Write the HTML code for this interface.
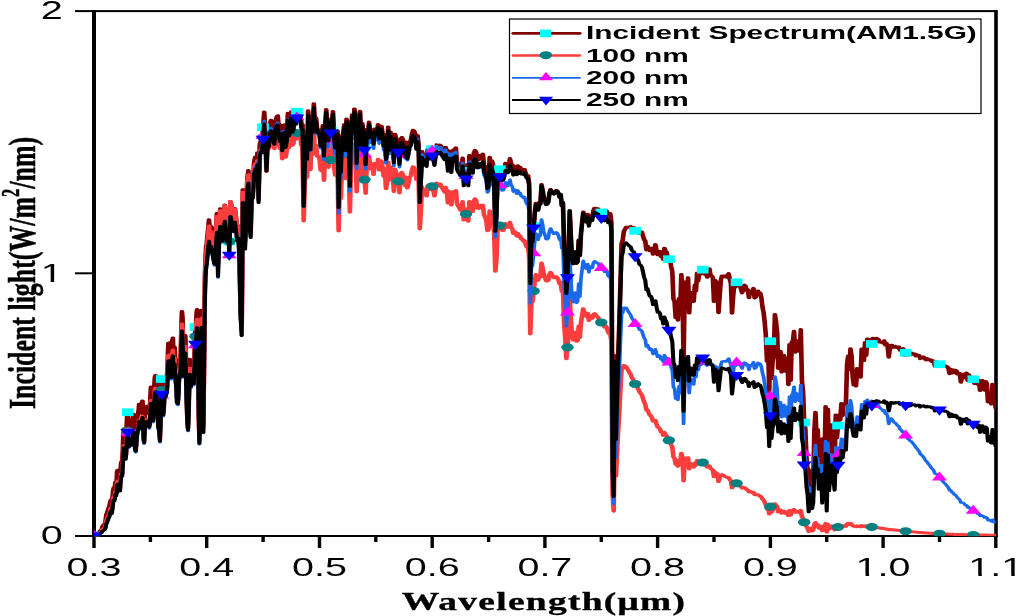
<!DOCTYPE html>
<html><head><meta charset="utf-8"><style>
html,body{margin:0;padding:0;background:#fff;}
body{width:1017px;height:616px;overflow:hidden;}
svg{display:block;}
.tk{font-family:"Liberation Sans",Arial,sans-serif;font-size:25.5px;fill:#000;}
.lg{font-family:"Liberation Sans",Arial,sans-serif;font-weight:bold;font-size:18.5px;fill:#000;}
.ti{font-family:"Liberation Serif","Times New Roman",serif;font-weight:bold;fill:#000;stroke:#000;stroke-width:0.35px;}
</style></head><body>
<svg width="1017" height="616" viewBox="0 0 1017 616">
<defs><clipPath id="pc"><rect x="60.65" y="11" width="581.94" height="525.2"/></clipPath></defs>
<!-- frame -->
<rect x="75" y="10.1" width="922" height="2" fill="#000"/>
<rect x="75" y="535" width="922" height="2" fill="#000"/>
<rect x="92" y="10.1" width="4" height="527" fill="#000"/>
<rect x="994.2" y="10.1" width="3.6" height="527" fill="#000"/>
<rect x="75" y="272.3" width="19" height="2" fill="#000"/>
<rect x="92.3" y="535" width="3.4" height="13.0" fill="#000"/><rect x="148.7" y="535" width="3.4" height="7.0" fill="#000"/><rect x="205.0" y="535" width="3.4" height="13.0" fill="#000"/><rect x="261.4" y="535" width="3.4" height="7.0" fill="#000"/><rect x="317.8" y="535" width="3.4" height="13.0" fill="#000"/><rect x="374.1" y="535" width="3.4" height="7.0" fill="#000"/><rect x="430.5" y="535" width="3.4" height="13.0" fill="#000"/><rect x="486.9" y="535" width="3.4" height="7.0" fill="#000"/><rect x="543.2" y="535" width="3.4" height="13.0" fill="#000"/><rect x="599.6" y="535" width="3.4" height="7.0" fill="#000"/><rect x="655.9" y="535" width="3.4" height="13.0" fill="#000"/><rect x="712.3" y="535" width="3.4" height="7.0" fill="#000"/><rect x="768.7" y="535" width="3.4" height="13.0" fill="#000"/><rect x="825.0" y="535" width="3.4" height="7.0" fill="#000"/><rect x="881.4" y="535" width="3.4" height="13.0" fill="#000"/><rect x="937.8" y="535" width="3.4" height="7.0" fill="#000"/><rect x="994.1" y="535" width="3.4" height="13.0" fill="#000"/>
<g transform="scale(1.55,1)" clip-path="url(#pc)">
<path d="M60.65,535.5 L61.01,535.5 L61.37,535.3 L61.74,535.1 L62.10,535.0 L62.46,534.7 L62.83,533.9 L63.19,533.4 L63.55,533.3 L63.92,532.7 L64.28,531.5 L64.65,530.9 L65.01,530.9 L65.37,530.3 L65.74,528.5 L66.10,526.5 L66.46,525.9 L66.83,524.9 L67.19,525.2 L67.55,524.5 L67.92,522.5 L68.28,518.6 L68.65,514.1 L69.01,513.8 L69.37,511.3 L69.74,509.9 L70.10,507.7 L70.46,507.6 L70.83,504.4 L71.19,501.6 L71.55,500.1 L71.92,504.8 L72.28,503.4 L72.65,496.4 L73.01,490.8 L73.37,488.0 L73.74,489.7 L74.10,487.1 L74.46,482.2 L74.83,484.5 L75.19,482.0 L75.55,471.5 L75.92,470.2 L76.28,473.3 L76.65,477.6 L77.01,478.9 L77.37,480.2 L77.74,470.7 L78.10,463.6 L78.46,461.6 L78.83,462.7 L79.19,450.8 L79.55,435.9 L79.92,429.1 L80.28,431.5 L80.65,435.0 L81.01,443.8 L81.37,438.4 L81.74,425.1 L82.10,413.0 L82.46,412.3 L82.83,423.6 L83.19,430.3 L83.55,426.2 L83.92,421.5 L84.28,420.7 L84.65,423.3 L85.01,429.1 L85.37,427.1 L85.74,419.2 L86.10,414.2 L86.46,417.1 L86.83,427.0 L87.19,435.7 L87.55,437.8 L87.92,430.8 L88.28,422.0 L88.65,416.5 L89.01,414.3 L89.37,411.5 L89.74,404.3 L90.10,404.6 L90.46,412.3 L90.83,412.8 L91.19,407.6 L91.56,402.8 L91.92,400.9 L92.28,408.4 L92.65,426.2 L93.01,430.2 L93.37,415.5 L93.74,407.6 L94.10,410.6 L94.46,408.3 L94.83,406.3 L95.19,410.9 L95.56,411.3 L95.92,409.1 L96.28,413.8 L96.65,410.5 L97.01,397.4 L97.37,387.1 L97.74,391.2 L98.10,396.9 L98.46,400.1 L98.83,407.5 L99.19,399.4 L99.56,385.8 L99.92,377.3 L100.28,375.5 L100.65,375.6 L101.01,381.1 L101.37,390.7 L101.74,399.7 L102.10,416.1 L102.46,414.7 L102.83,423.1 L103.19,431.2 L103.56,412.8 L103.92,387.6 L104.28,379.0 L104.65,387.7 L105.01,399.5 L105.37,402.3 L105.74,395.8 L106.10,382.5 L106.46,378.1 L106.83,382.4 L107.19,376.9 L107.56,378.4 L107.92,372.4 L108.28,356.0 L108.65,343.1 L109.01,342.8 L109.37,346.4 L109.74,350.0 L110.10,360.9 L110.46,362.0 L110.83,354.2 L111.19,340.7 L111.56,337.9 L111.92,356.9 L112.28,354.1 L112.65,347.0 L113.01,359.1 L113.37,367.4 L113.74,373.6 L114.10,389.6 L114.46,390.0 L114.83,391.1 L115.19,381.4 L115.56,365.0 L115.92,359.0 L116.28,361.8 L116.65,349.2 L117.01,327.6 L117.37,311.5 L117.74,317.2 L118.10,340.9 L118.46,361.1 L118.83,352.2 L119.19,339.1 L119.56,335.6 L119.92,355.4 L120.28,382.0 L120.65,402.8 L121.01,416.6 L121.37,420.4 L121.74,402.2 L122.10,375.0 L122.46,359.3 L122.83,367.1 L123.19,373.1 L123.56,366.6 L123.92,365.1 L124.28,367.6 L124.65,369.2 L125.01,370.4 L125.37,356.2 L125.74,336.7 L126.10,326.9 L126.46,325.2 L126.83,312.7 L127.19,309.5 L127.56,327.5 L127.92,362.2 L128.28,410.1 L128.65,435.8 L129.01,405.9 L129.37,356.6 L129.74,324.1 L130.10,310.3 L130.47,337.5 L130.83,391.6 L131.19,424.1 L131.56,370.9 L131.92,312.4 L132.28,271.9 L132.65,255.6 L133.01,247.0 L133.37,243.9 L134.10,231.7 L134.83,219.7 L135.56,231.5 L136.28,226.6 L137.01,234.2 L137.74,241.6 L138.47,246.9 L139.19,234.1 L139.92,213.5 L140.65,261.0 L141.37,228.2 L142.10,208.8 L142.83,222.1 L143.56,225.5 L144.28,214.6 L145.01,205.0 L145.74,213.2 L146.47,227.2 L147.19,214.6 L147.92,241.5 L148.65,201.5 L149.37,206.1 L150.10,216.5 L150.83,218.3 L151.56,208.6 L152.28,217.8 L153.01,228.6 L153.74,225.6 L154.47,248.5 L155.19,306.6 L155.92,327.7 L156.65,189.7 L157.37,213.8 L158.10,238.3 L158.83,209.5 L159.56,177.9 L160.28,170.4 L161.01,215.1 L161.74,227.2 L162.47,182.1 L163.19,186.9 L163.92,162.4 L164.65,157.1 L165.37,166.7 L166.10,152.7 L166.83,192.3 L167.56,145.3 L168.28,140.6 L169.01,141.5 L169.74,127.1 L170.47,112.0 L171.19,130.1 L171.92,161.1 L172.65,133.9 L173.38,136.9 L174.10,123.8 L174.83,120.3 L175.56,129.3 L176.28,132.5 L177.01,135.1 L177.74,121.1 L178.47,117.2 L179.19,115.7 L179.92,128.5 L180.65,133.6 L181.38,125.1 L182.10,143.4 L182.83,126.5 L183.56,124.9 L184.28,140.7 L185.01,134.1 L185.74,113.2 L186.47,129.6 L187.19,125.1 L187.92,111.7 L188.65,126.2 L189.38,123.8 L190.10,110.5 L190.83,118.7 L191.56,111.8 L192.28,111.9 L193.01,110.3 L193.74,115.5 L194.47,123.5 L195.19,124.8 L195.92,202.6 L196.65,162.6 L197.38,131.9 L198.10,155.3 L198.83,110.7 L199.56,127.1 L200.28,146.2 L201.01,119.1 L201.74,129.0 L202.47,103.8 L203.19,125.0 L203.92,118.0 L204.65,129.4 L205.38,129.4 L206.10,130.9 L206.83,143.3 L207.56,143.6 L208.29,125.6 L209.01,153.5 L209.74,126.1 L210.47,109.6 L211.19,128.1 L211.92,138.4 L212.65,119.3 L213.38,130.1 L214.10,122.6 L214.83,111.6 L215.56,137.3 L216.29,145.7 L217.01,134.5 L217.74,130.8 L218.47,205.8 L219.19,158.4 L219.92,170.1 L220.65,136.5 L221.38,133.7 L222.10,124.6 L222.83,148.3 L223.56,119.0 L224.29,122.3 L225.01,133.8 L225.74,184.2 L226.47,133.4 L227.19,114.7 L227.92,131.0 L228.65,108.9 L229.38,116.6 L230.10,161.4 L230.83,134.8 L231.56,128.7 L232.29,111.3 L233.01,143.0 L233.74,123.4 L234.47,133.5 L235.19,147.3 L235.92,162.4 L236.65,129.3 L237.38,136.0 L238.10,122.0 L238.83,131.3 L239.56,135.1 L240.29,129.9 L241.01,141.4 L241.74,129.1 L242.47,132.3 L243.20,132.7 L243.92,124.5 L244.65,136.2 L245.38,128.3 L246.10,126.1 L246.83,133.1 L247.56,143.0 L248.29,134.6 L249.01,156.3 L249.74,149.5 L250.47,127.1 L251.20,146.7 L251.92,132.0 L252.65,139.9 L253.38,137.5 L254.10,159.1 L254.83,134.3 L255.56,138.0 L256.29,147.8 L257.01,147.5 L257.74,160.3 L258.47,139.2 L259.20,137.5 L259.92,139.6 L260.65,148.6 L261.38,151.8 L262.10,142.1 L262.83,154.3 L263.56,148.8 L264.29,142.2 L265.01,140.4 L265.74,134.3 L266.47,130.2 L267.20,131.0 L267.92,134.2 L268.65,144.0 L269.38,135.4 L270.10,144.5 L270.83,197.9 L271.56,176.6 L272.29,151.6 L273.01,159.7 L273.74,154.2 L274.47,156.1 L275.20,160.9 L275.92,149.4 L276.65,148.3 L277.38,153.0 L278.10,153.0 L278.83,149.2 L279.56,153.8 L280.29,159.5 L281.01,151.5 L281.74,144.8 L282.47,145.5 L283.20,147.4 L283.92,145.1 L284.65,146.3 L285.38,149.3 L286.11,151.0 L286.83,152.9 L287.56,147.2 L288.29,152.7 L289.01,164.3 L289.74,150.7 L290.47,160.8 L291.20,165.6 L291.92,151.5 L292.65,149.7 L293.38,149.6 L294.11,147.9 L294.83,161.9 L295.56,164.6 L296.29,165.8 L297.01,168.2 L297.74,168.6 L298.47,158.0 L299.20,178.6 L299.92,165.9 L300.65,170.9 L301.38,164.7 L302.11,178.4 L302.83,155.6 L303.56,161.5 L304.29,156.9 L305.01,165.6 L305.74,152.9 L306.47,150.4 L307.20,152.0 L307.92,160.0 L308.65,159.8 L309.38,159.1 L310.11,155.2 L310.83,156.8 L311.56,154.1 L312.29,165.0 L313.01,166.7 L313.74,170.2 L314.47,181.5 L315.20,179.6 L315.92,157.2 L316.65,172.3 L317.38,160.8 L318.11,164.9 L318.83,182.1 L319.56,225.2 L320.29,211.0 L321.02,172.7 L321.74,171.4 L322.47,169.1 L323.20,170.7 L323.92,173.7 L324.65,173.0 L325.38,169.8 L326.11,163.3 L326.83,163.6 L327.56,166.3 L328.29,165.0 L329.02,158.6 L329.74,163.8 L330.47,164.5 L331.20,169.7 L331.92,166.5 L332.65,167.0 L333.38,170.0 L334.11,165.8 L334.83,169.2 L335.56,167.2 L336.29,170.3 L337.02,169.7 L337.74,171.2 L338.47,169.4 L339.20,173.4 L339.92,175.8 L340.65,175.5 L341.38,183.7 L342.11,282.1 L342.83,242.1 L343.56,240.3 L344.29,226.0 L345.02,212.6 L345.74,203.3 L346.47,205.4 L347.20,209.2 L347.92,202.6 L348.65,203.4 L349.38,184.6 L350.11,190.1 L350.83,197.3 L351.56,199.8 L352.29,204.1 L353.02,203.7 L353.74,201.8 L354.47,193.1 L355.20,189.5 L355.93,191.4 L356.65,192.8 L357.38,193.9 L358.11,192.6 L358.83,190.5 L359.56,191.1 L360.29,193.3 L361.02,197.3 L361.74,194.4 L362.47,206.0 L363.20,202.6 L363.93,245.7 L364.65,266.0 L365.38,293.9 L366.11,277.5 L366.83,251.2 L367.56,210.7 L368.29,235.9 L369.02,259.2 L369.74,263.8 L370.47,252.4 L371.20,251.5 L371.93,263.3 L372.65,261.5 L373.38,240.1 L374.11,255.3 L374.83,233.6 L375.56,222.3 L376.29,212.0 L377.02,216.7 L377.74,219.8 L378.47,220.3 L379.20,214.3 L379.93,223.8 L380.65,216.2 L381.38,217.5 L382.11,217.3 L382.83,210.7 L383.56,208.2 L384.29,208.3 L385.02,209.0 L385.74,208.8 L386.47,210.8 L387.20,212.0 L387.93,212.4 L388.65,213.8 L389.38,212.7 L390.11,214.4 L390.83,210.3 L391.56,211.3 L392.29,215.3 L393.02,215.5 L393.74,213.6 L394.47,222.8 L395.20,466.1 L395.93,495.5 L396.65,355.6 L397.38,436.3 L398.11,394.6 L398.84,356.0 L399.56,322.3 L400.29,280.5 L401.02,243.9 L401.74,240.3 L402.47,231.6 L403.20,229.6 L403.93,227.2 L404.65,227.3 L405.38,227.3 L406.11,227.3 L406.84,226.6 L407.56,228.5 L408.29,228.9 L409.02,227.5 L409.74,230.9 L410.47,231.6 L411.20,230.2 L411.93,231.5 L412.65,233.5 L413.38,232.2 L414.11,232.0 L414.84,235.8 L415.56,239.6 L416.29,240.8 L417.02,249.9 L417.74,246.0 L418.47,248.8 L419.20,250.8 L419.93,248.3 L420.65,249.3 L421.38,254.3 L422.11,249.8 L422.84,244.4 L423.56,250.0 L424.29,254.8 L425.02,251.7 L425.74,251.3 L426.47,256.5 L427.20,253.3 L427.93,259.5 L428.65,248.2 L429.38,251.2 L430.11,252.2 L430.84,259.4 L431.56,259.1 L432.29,259.8 L433.02,266.7 L433.75,271.5 L434.47,299.0 L435.20,301.2 L435.93,317.7 L436.65,312.6 L437.38,320.2 L438.11,298.6 L438.84,309.9 L439.56,274.4 L440.29,286.4 L441.02,359.5 L441.75,290.8 L442.47,281.8 L443.20,291.1 L443.93,277.8 L444.65,313.1 L445.38,292.3 L446.11,295.8 L446.84,293.7 L447.56,301.5 L448.29,285.1 L449.02,291.0 L449.75,272.9 L450.47,281.0 L451.20,271.3 L451.93,274.0 L452.65,273.4 L453.38,269.6 L454.11,271.1 L454.84,274.5 L455.56,272.4 L456.29,277.3 L457.02,269.4 L457.75,268.8 L458.47,275.9 L459.20,275.8 L459.93,277.4 L460.65,301.6 L461.38,280.3 L462.11,281.8 L462.84,283.0 L463.56,312.8 L464.29,296.5 L465.02,280.8 L465.75,275.9 L466.47,275.9 L467.20,275.9 L467.93,276.9 L468.66,277.2 L469.38,275.2 L470.11,273.6 L470.84,279.2 L471.56,283.4 L472.29,313.3 L473.02,295.9 L473.75,284.4 L474.47,287.0 L475.20,282.3 L475.93,285.8 L476.66,282.4 L477.38,285.0 L478.11,289.4 L478.84,292.9 L479.56,286.1 L480.29,285.2 L481.02,286.2 L481.75,290.4 L482.47,289.6 L483.20,297.7 L483.93,291.5 L484.66,292.3 L485.38,291.3 L486.11,288.4 L486.84,298.0 L487.56,297.2 L488.29,294.1 L489.02,290.9 L489.75,293.7 L490.47,293.2 L491.20,297.6 L491.93,307.0 L492.66,312.7 L493.38,322.6 L494.11,336.0 L494.84,361.4 L495.56,347.7 L496.29,392.0 L497.02,341.2 L497.75,378.7 L498.47,360.8 L499.20,355.3 L499.93,314.5 L500.66,321.7 L501.38,332.6 L502.11,368.5 L502.84,364.9 L503.56,351.2 L504.29,372.1 L505.02,360.7 L505.75,355.3 L506.47,371.1 L507.20,371.6 L507.93,358.0 L508.66,384.7 L509.38,344.5 L510.11,380.5 L510.84,342.2 L511.57,340.8 L512.29,331.3 L513.02,352.3 L513.75,340.6 L514.47,346.7 L515.20,349.5 L515.93,351.5 L516.66,329.5 L517.38,381.3 L518.11,391.3 L518.84,422.6 L519.57,428.6 L520.29,457.0 L521.02,470.7 L521.75,498.1 L522.47,470.1 L523.20,493.5 L523.93,493.0 L524.66,483.2 L525.38,431.3 L526.11,412.2 L526.84,438.3 L527.57,429.6 L528.29,462.9 L529.02,460.9 L529.75,439.3 L530.47,484.8 L531.20,438.5 L531.93,463.9 L532.66,406.4 L533.38,497.2 L534.11,409.0 L534.84,465.3 L535.57,445.8 L536.29,424.7 L537.02,446.4 L537.75,449.8 L538.47,464.9 L539.20,415.0 L539.93,437.8 L540.66,425.6 L541.38,414.9 L542.11,420.0 L542.84,403.5 L543.57,415.6 L544.29,403.8 L545.02,404.1 L545.75,404.1 L546.48,364.9 L547.20,356.0 L547.93,369.5 L548.66,348.7 L549.38,355.6 L550.11,376.9 L550.84,385.0 L551.57,381.2 L552.29,385.9 L553.02,368.4 L553.75,374.6 L554.48,368.6 L555.20,377.3 L555.93,348.9 L556.66,354.4 L557.38,360.6 L558.11,342.6 L558.84,355.5 L559.57,339.0 L560.29,342.1 L561.02,343.3 L561.75,339.5 L562.48,343.9 L563.20,338.3 L563.93,339.0 L564.66,342.6 L565.38,338.2 L566.11,338.8 L566.84,339.6 L567.57,342.0 L568.29,342.2 L569.02,342.3 L569.75,343.1 L570.48,340.7 L571.20,345.0 L571.93,343.3 L572.66,346.2 L573.38,357.2 L574.11,349.1 L574.84,345.2 L575.57,345.3 L576.29,347.2 L577.02,347.3 L577.75,346.4 L578.48,347.4 L579.20,347.8 L579.93,346.9 L580.66,350.2 L581.39,349.4 L582.11,351.5 L582.84,348.6 L583.57,355.3 L584.29,352.6 L585.02,351.9 L585.75,355.1 L586.48,353.7 L587.20,354.8 L587.93,353.0 L588.66,353.3 L589.39,354.2 L590.11,354.0 L590.84,356.0 L591.57,354.8 L592.29,355.7 L593.02,355.5 L593.75,358.6 L594.48,357.6 L595.20,357.0 L595.93,357.1 L596.66,358.9 L597.39,359.8 L598.11,358.6 L598.84,359.8 L599.57,359.8 L600.29,359.7 L601.02,361.5 L601.75,360.7 L602.48,361.7 L603.20,366.2 L603.93,363.6 L604.66,362.1 L605.39,363.1 L606.11,364.3 L606.84,364.1 L607.57,365.2 L608.29,365.7 L609.02,366.4 L609.75,365.9 L610.48,366.4 L611.20,366.8 L611.93,368.6 L612.66,373.7 L613.39,369.2 L614.11,373.0 L614.84,370.0 L615.57,372.7 L616.29,370.2 L617.02,370.9 L617.75,374.1 L618.48,373.2 L619.20,373.5 L619.93,382.2 L620.66,377.3 L621.39,374.2 L622.11,374.5 L622.84,377.6 L623.57,372.9 L624.30,380.5 L625.02,374.7 L625.75,377.4 L626.48,377.7 L627.20,377.3 L627.93,379.3 L628.66,383.6 L629.39,381.3 L630.11,379.1 L630.84,384.2 L631.57,380.3 L632.30,390.6 L633.02,387.2 L633.75,380.4 L634.48,384.0 L635.20,390.2 L635.93,381.6 L636.66,383.5 L637.39,402.0 L638.11,394.4 L638.84,399.4 L639.57,403.9 L640.30,384.2 L641.02,404.0 L641.75,402.8 L642.48,408.5" fill="none" stroke="#800000" stroke-width="3.0" stroke-linejoin="round"/>
<rect x="56.90" y="531.7" width="7.5" height="7.7" fill="#00ffff"/><rect x="78.71" y="408.4" width="7.5" height="7.7" fill="#00ffff"/><rect x="100.53" y="375.2" width="7.5" height="7.7" fill="#00ffff"/><rect x="122.35" y="323.1" width="7.5" height="7.7" fill="#00ffff"/><rect x="144.17" y="237.6" width="7.5" height="7.7" fill="#00ffff"/><rect x="165.99" y="123.3" width="7.5" height="7.7" fill="#00ffff"/><rect x="187.81" y="107.9" width="7.5" height="7.7" fill="#00ffff"/><rect x="209.63" y="126.3" width="7.5" height="7.7" fill="#00ffff"/><rect x="231.44" y="143.5" width="7.5" height="7.7" fill="#00ffff"/><rect x="253.26" y="143.7" width="7.5" height="7.7" fill="#00ffff"/><rect x="275.08" y="145.3" width="7.5" height="7.7" fill="#00ffff"/><rect x="296.90" y="167.1" width="7.5" height="7.7" fill="#00ffff"/><rect x="318.72" y="165.3" width="7.5" height="7.7" fill="#00ffff"/><rect x="340.54" y="222.2" width="7.5" height="7.7" fill="#00ffff"/><rect x="362.36" y="273.7" width="7.5" height="7.7" fill="#00ffff"/><rect x="384.18" y="208.6" width="7.5" height="7.7" fill="#00ffff"/><rect x="405.99" y="227.0" width="7.5" height="7.7" fill="#00ffff"/><rect x="427.81" y="255.3" width="7.5" height="7.7" fill="#00ffff"/><rect x="449.63" y="265.8" width="7.5" height="7.7" fill="#00ffff"/><rect x="471.45" y="278.4" width="7.5" height="7.7" fill="#00ffff"/><rect x="493.27" y="337.4" width="7.5" height="7.7" fill="#00ffff"/><rect x="515.09" y="418.7" width="7.5" height="7.7" fill="#00ffff"/><rect x="536.91" y="421.7" width="7.5" height="7.7" fill="#00ffff"/><rect x="558.73" y="340.1" width="7.5" height="7.7" fill="#00ffff"/><rect x="580.54" y="348.8" width="7.5" height="7.7" fill="#00ffff"/><rect x="602.36" y="360.4" width="7.5" height="7.7" fill="#00ffff"/><rect x="624.18" y="375.4" width="7.5" height="7.7" fill="#00ffff"/>
<path d="M60.65,535.6 L61.01,535.6 L61.37,535.5 L61.74,535.4 L62.10,535.3 L62.46,535.1 L62.83,534.7 L63.19,534.4 L63.55,534.3 L63.92,533.9 L64.28,533.1 L64.65,532.7 L65.01,532.7 L65.37,532.3 L65.74,531.1 L66.10,529.7 L66.46,529.3 L66.83,528.6 L67.19,528.7 L67.55,528.2 L67.92,526.7 L68.28,524.0 L68.65,520.7 L69.01,520.2 L69.37,518.2 L69.74,516.9 L70.10,515.0 L70.46,514.6 L70.83,511.9 L71.19,509.4 L71.55,508.0 L71.92,511.4 L72.28,510.1 L72.65,504.3 L73.01,499.6 L73.37,497.0 L73.74,498.2 L74.10,495.8 L74.46,491.6 L74.83,493.3 L75.19,491.2 L75.55,482.3 L75.92,481.2 L76.28,483.6 L76.65,487.2 L77.01,488.2 L77.37,489.2 L77.74,481.1 L78.10,475.2 L78.46,473.4 L78.83,474.3 L79.19,464.2 L79.55,451.6 L79.92,445.7 L80.28,447.7 L80.65,450.6 L81.01,457.9 L81.37,453.3 L81.74,442.0 L82.10,431.5 L82.46,430.8 L82.83,440.3 L83.19,445.9 L83.55,442.3 L83.92,438.1 L84.28,437.3 L84.65,439.3 L85.01,444.2 L85.37,442.3 L85.74,435.3 L86.10,430.9 L86.46,433.2 L86.83,441.6 L87.19,449.0 L87.55,450.7 L87.92,444.5 L88.28,436.6 L88.65,431.6 L89.01,429.5 L89.37,426.9 L89.74,420.4 L90.10,420.4 L90.46,427.0 L90.83,427.3 L91.19,422.4 L91.56,418.0 L91.92,416.1 L92.28,422.6 L92.65,438.2 L93.01,441.6 L93.37,428.3 L93.74,421.0 L94.10,423.5 L94.46,421.3 L94.83,419.3 L95.19,423.2 L95.56,423.4 L95.92,421.3 L96.28,425.3 L96.65,422.2 L97.01,410.1 L97.37,400.5 L97.74,404.0 L98.10,409.0 L98.46,411.8 L98.83,418.4 L99.19,410.8 L99.56,398.2 L99.92,390.1 L100.28,388.3 L100.65,388.2 L101.01,393.1 L101.37,401.8 L101.74,410.0 L102.10,425.1 L102.46,423.6 L102.83,431.3 L103.19,438.7 L103.56,421.5 L103.92,398.1 L104.28,390.0 L104.65,397.9 L105.01,408.8 L105.37,411.4 L105.74,405.3 L106.10,392.8 L106.46,388.6 L106.83,392.5 L107.19,387.3 L107.56,388.7 L107.92,382.9 L108.28,367.5 L108.65,355.4 L109.01,355.0 L109.37,358.3 L109.74,361.6 L110.10,371.7 L110.46,372.8 L110.83,365.3 L111.19,352.6 L111.56,349.9 L111.92,367.7 L112.28,365.0 L112.65,358.2 L113.01,369.5 L113.37,377.3 L113.74,383.1 L114.10,398.1 L114.46,398.5 L114.83,399.4 L115.19,390.2 L115.56,374.8 L115.92,369.0 L116.28,371.6 L116.65,359.6 L117.01,339.2 L117.37,323.9 L117.74,329.3 L118.10,351.5 L118.46,370.6 L118.83,362.1 L119.19,349.6 L119.56,346.3 L119.92,365.0 L120.28,390.1 L120.65,409.7 L121.01,422.8 L121.37,426.3 L121.74,409.1 L122.10,383.2 L122.46,368.2 L122.83,375.5 L123.19,381.1 L123.56,374.9 L123.92,373.3 L124.28,375.6 L124.65,377.1 L125.01,378.1 L125.37,364.5 L125.74,345.8 L126.10,336.3 L126.46,334.5 L126.83,322.4 L127.19,319.2 L127.56,336.2 L127.92,369.3 L128.28,415.1 L128.65,439.7 L129.01,410.9 L129.37,363.2 L129.74,331.7 L130.10,318.2 L130.47,344.2 L130.83,396.3 L131.19,427.6 L131.56,375.8 L131.92,318.9 L132.28,279.3 L132.65,263.1 L133.01,254.4 L133.37,251.0 L134.10,238.5 L134.83,226.1 L135.56,237.0 L136.28,231.6 L137.01,238.7 L137.74,245.6 L138.47,250.4 L139.19,237.4 L139.92,216.6 L140.65,263.3 L141.37,230.3 L142.10,210.6 L142.83,223.5 L143.56,226.5 L144.28,215.4 L145.01,205.5 L145.74,213.5 L146.47,227.3 L147.19,214.6 L147.92,241.5 L148.65,201.5 L149.37,206.2 L150.10,216.7 L150.83,218.6 L151.56,209.1 L152.28,218.6 L153.01,229.5 L153.74,226.8 L154.47,249.9 L155.19,307.9 L155.92,329.1 L156.65,192.3 L157.37,216.5 L158.10,241.1 L158.83,212.8 L159.56,181.7 L160.28,174.7 L161.01,219.2 L161.74,231.4 L162.47,187.2 L163.19,192.4 L163.92,168.6 L164.65,163.8 L165.37,173.7 L166.10,160.4 L166.83,199.5 L167.56,153.9 L168.28,149.7 L169.01,151.0 L169.74,137.3 L170.47,123.0 L171.19,141.0 L171.92,171.5 L172.65,145.4 L173.38,148.6 L174.10,136.3 L174.83,133.3 L175.56,142.3 L176.28,145.8 L177.01,148.6 L177.74,135.4 L178.47,132.0 L179.19,130.9 L179.92,143.6 L180.65,148.8 L181.38,141.0 L182.10,158.9 L182.83,143.0 L183.56,141.8 L184.28,157.3 L185.01,151.2 L185.74,131.6 L186.47,147.7 L187.19,143.7 L187.92,131.2 L188.65,145.3 L189.38,143.4 L190.10,131.1 L190.83,139.2 L191.56,133.0 L192.28,133.4 L193.01,132.3 L193.74,137.6 L194.47,145.5 L195.19,147.1 L195.92,221.0 L196.65,183.6 L197.38,154.9 L198.10,177.4 L198.83,135.7 L199.56,151.6 L200.28,169.8 L201.01,144.7 L201.74,154.4 L202.47,131.2 L203.19,151.4 L203.92,145.2 L204.65,156.2 L205.38,156.6 L206.10,158.3 L206.83,170.2 L207.56,170.8 L208.29,154.3 L209.01,180.5 L209.74,155.3 L210.47,140.2 L211.19,157.6 L211.92,167.4 L212.65,150.0 L213.38,160.1 L214.10,153.3 L214.83,143.4 L215.56,167.3 L216.29,175.3 L217.01,165.0 L217.74,161.8 L218.47,231.1 L219.19,187.5 L219.92,198.4 L220.65,167.6 L221.38,165.1 L222.10,156.9 L222.83,178.8 L223.56,152.0 L224.29,155.1 L225.01,165.8 L225.74,212.3 L226.47,165.7 L227.19,148.6 L227.92,163.7 L228.65,143.5 L229.38,150.7 L230.10,192.0 L230.83,167.6 L231.56,162.1 L232.29,146.2 L233.01,175.4 L233.74,157.5 L234.47,166.8 L235.19,179.6 L235.92,193.4 L236.65,163.2 L237.38,169.4 L238.10,156.6 L238.83,165.2 L239.56,168.7 L240.29,164.0 L241.01,174.6 L241.74,163.4 L242.47,166.3 L243.20,166.8 L243.92,159.3 L244.65,170.1 L245.38,162.9 L246.10,160.9 L246.83,167.4 L247.56,176.5 L248.29,168.8 L249.01,188.7 L249.74,182.6 L250.47,162.1 L251.20,180.1 L251.92,166.7 L252.65,174.0 L253.38,171.8 L254.10,191.6 L254.83,169.1 L255.56,172.5 L256.29,181.5 L257.01,181.3 L257.74,193.0 L258.47,173.9 L259.20,172.4 L259.92,174.4 L260.65,182.6 L261.38,185.7 L262.10,177.0 L262.83,188.1 L263.56,183.2 L264.29,177.3 L265.01,175.8 L265.74,170.4 L266.47,166.7 L267.20,167.5 L267.92,170.6 L268.65,179.6 L269.38,171.9 L270.10,180.3 L270.83,228.9 L271.56,209.7 L272.29,187.1 L273.01,194.6 L273.74,189.8 L274.47,191.6 L275.20,196.1 L275.92,185.9 L276.65,185.0 L277.38,189.5 L278.10,189.6 L278.83,186.3 L279.56,190.6 L280.29,196.0 L281.01,189.0 L281.74,183.1 L282.47,183.9 L283.20,185.9 L283.92,184.0 L284.65,185.4 L285.38,188.3 L286.11,190.0 L286.83,192.1 L287.56,187.2 L288.29,192.4 L289.01,203.1 L289.74,191.2 L290.47,200.5 L291.20,205.1 L291.92,192.9 L292.65,191.6 L293.38,191.7 L294.11,190.6 L294.83,203.3 L295.56,206.1 L296.29,207.5 L297.01,210.0 L297.74,210.6 L298.47,201.6 L299.20,220.1 L299.92,209.2 L300.65,214.0 L301.38,208.8 L302.11,221.3 L302.83,201.6 L303.56,207.1 L304.29,203.5 L305.01,211.4 L305.74,200.8 L306.47,198.9 L307.20,200.8 L307.92,208.2 L308.65,208.4 L309.38,208.2 L310.11,205.2 L310.83,207.1 L311.56,205.2 L312.29,215.1 L313.01,217.0 L313.74,220.5 L314.47,230.7 L315.20,229.5 L315.92,210.8 L316.65,224.2 L317.38,214.8 L318.11,218.9 L318.83,234.0 L319.56,271.3 L320.29,259.7 L321.02,227.6 L321.74,227.0 L322.47,225.6 L323.20,227.5 L323.92,230.5 L324.65,230.6 L325.38,228.4 L326.11,223.6 L326.83,224.5 L327.56,227.3 L328.29,227.0 L329.02,222.3 L329.74,227.3 L330.47,228.6 L331.20,233.5 L331.92,231.6 L332.65,232.7 L333.38,236.0 L334.11,233.2 L334.83,236.7 L335.56,235.8 L336.29,239.1 L337.02,239.3 L337.74,241.2 L338.47,240.6 L339.20,244.5 L339.92,247.1 L340.65,247.6 L341.38,254.8 L342.11,333.9 L342.83,302.7 L343.56,301.8 L344.29,291.1 L345.02,281.1 L345.74,274.4 L346.47,276.7 L347.20,280.3 L347.92,275.8 L348.65,277.1 L349.38,263.1 L350.11,268.0 L350.83,274.3 L351.56,276.8 L352.29,280.8 L353.02,281.1 L353.74,280.3 L354.47,274.4 L355.20,272.3 L355.93,274.4 L356.65,276.2 L357.38,277.7 L358.11,277.5 L358.83,276.6 L359.56,277.7 L360.29,280.0 L361.02,283.7 L361.74,282.2 L362.47,291.5 L363.20,289.7 L363.93,322.2 L364.65,337.7 L365.38,358.7 L366.11,347.3 L366.83,328.6 L367.56,299.8 L368.29,318.8 L369.02,336.2 L369.74,340.1 L370.47,332.5 L371.20,332.3 L371.93,341.3 L372.65,340.7 L373.38,326.0 L374.11,337.4 L374.83,322.6 L375.56,315.3 L376.29,308.7 L377.02,312.7 L377.74,315.5 L378.47,316.6 L379.20,313.1 L379.93,320.5 L380.65,316.0 L381.38,317.6 L382.11,318.3 L382.83,314.6 L383.56,313.7 L384.29,314.7 L385.02,316.1 L385.74,317.0 L386.47,319.3 L387.20,321.0 L387.93,322.4 L388.65,324.4 L389.38,324.8 L390.11,327.2 L390.83,325.9 L391.56,328.0 L392.29,332.0 L393.02,333.7 L393.74,334.1 L394.47,341.4 L395.20,492.9 L395.93,511.2 L396.65,426.8 L397.38,476.2 L398.11,451.9 L398.84,430.0 L399.56,411.4 L400.29,388.5 L401.02,369.1 L401.74,368.6 L402.47,365.5 L403.20,366.1 L403.93,366.6 L404.65,368.6 L405.38,370.6 L406.11,372.6 L406.84,374.2 L407.56,377.2 L408.29,379.3 L409.02,380.5 L409.74,383.9 L410.47,386.1 L411.20,387.1 L411.93,389.5 L412.65,392.2 L413.38,393.4 L414.11,395.1 L414.84,398.5 L415.56,402.0 L416.29,404.3 L417.02,410.0 L417.74,409.9 L418.47,412.7 L419.20,415.2 L419.93,415.7 L420.65,417.7 L421.38,421.3 L422.11,421.0 L422.84,420.3 L423.56,424.0 L424.29,427.2 L425.02,427.4 L425.74,428.6 L426.47,431.9 L427.20,431.9 L427.93,435.4 L428.65,432.4 L429.38,434.6 L430.11,436.0 L430.84,439.5 L431.56,440.3 L432.29,441.4 L433.02,444.6 L433.75,447.0 L434.47,456.9 L435.20,458.3 L435.93,464.4 L436.65,463.2 L437.38,466.3 L438.11,459.9 L438.84,464.0 L439.56,453.3 L440.29,457.7 L441.02,481.0 L441.75,460.1 L442.47,457.9 L443.20,461.3 L443.93,457.8 L444.65,468.9 L445.38,463.2 L446.11,464.7 L446.84,464.6 L447.56,467.3 L448.29,463.1 L449.02,465.3 L449.75,460.6 L450.47,463.5 L451.20,461.3 L451.93,462.6 L452.65,463.0 L453.38,462.6 L454.11,463.6 L454.84,465.2 L455.56,465.2 L456.29,467.1 L457.02,465.6 L457.75,466.1 L458.47,468.6 L459.20,469.1 L459.93,470.2 L460.65,476.8 L461.38,472.1 L462.11,473.0 L462.84,473.9 L463.56,481.7 L464.29,478.3 L465.02,475.2 L465.75,474.6 L466.47,475.2 L467.20,475.8 L467.93,476.6 L468.66,477.2 L469.38,477.4 L470.11,477.6 L470.84,479.4 L471.56,480.9 L472.29,487.9 L473.02,484.6 L473.75,482.7 L474.47,483.8 L475.20,483.3 L475.93,484.6 L476.66,484.4 L477.38,485.4 L478.11,486.9 L478.84,488.1 L479.56,487.3 L480.29,487.6 L481.02,488.3 L481.75,489.6 L482.47,490.0 L483.20,492.0 L483.93,491.4 L484.66,492.0 L485.38,492.4 L486.11,492.3 L486.84,494.5 L487.56,494.8 L488.29,494.8 L489.02,494.7 L489.75,495.6 L490.47,496.0 L491.20,497.1 L491.93,499.0 L492.66,500.3 L493.38,502.3 L494.11,504.7 L494.84,508.9 L495.56,507.1 L496.29,514.0 L497.02,506.6 L497.75,512.4 L498.47,510.0 L499.20,509.4 L499.93,503.7 L500.66,505.0 L501.38,506.7 L502.11,512.1 L502.84,511.7 L503.56,510.0 L504.29,513.1 L505.02,511.6 L505.75,511.1 L506.47,513.4 L507.20,513.6 L507.93,511.9 L508.66,515.6 L509.38,510.4 L510.11,515.3 L510.84,510.5 L511.57,510.5 L512.29,509.4 L513.02,512.3 L513.75,511.0 L514.47,511.9 L515.20,512.5 L515.93,512.9 L516.66,510.4 L517.38,516.9 L518.11,518.3 L518.84,522.2 L519.57,523.1 L520.29,526.5 L521.02,528.2 L521.75,531.5 L522.47,528.3 L523.20,531.0 L523.93,531.0 L524.66,530.0 L525.38,524.4 L526.11,522.5 L526.84,525.5 L527.57,524.7 L528.29,528.3 L529.02,528.2 L529.75,526.1 L530.47,530.8 L531.20,526.3 L531.93,528.9 L532.66,523.5 L533.38,532.2 L534.11,524.2 L534.84,529.4 L535.57,527.8 L536.29,526.0 L537.02,528.1 L537.75,528.5 L538.47,529.9 L539.20,525.8 L539.93,527.8 L540.66,527.0 L541.38,526.3 L542.11,526.8 L542.84,525.7 L543.57,526.8 L544.29,526.1 L545.02,526.2 L545.75,526.4 L546.48,523.8 L547.20,523.4 L547.93,524.5 L548.66,523.4 L549.38,524.0 L550.11,525.6 L550.84,526.3 L551.57,526.3 L552.29,526.7 L553.02,525.9 L553.75,526.4 L554.48,526.3 L555.20,526.9 L555.93,525.5 L556.66,526.0 L557.38,526.6 L558.11,525.8 L558.84,526.7 L559.57,526.0 L560.29,526.4 L561.02,526.6 L561.75,526.6 L562.48,527.0 L563.20,526.9 L563.93,527.1 L564.66,527.4 L565.38,527.4 L566.11,527.6 L566.84,527.8 L567.57,528.0 L568.29,528.2 L569.02,528.3 L569.75,528.5 L570.48,528.6 L571.20,528.9 L571.93,528.9 L572.66,529.2 L573.38,529.7 L574.11,529.5 L574.84,529.5 L575.57,529.7 L576.29,529.8 L577.02,530.0 L577.75,530.1 L578.48,530.2 L579.20,530.3 L579.93,530.4 L580.66,530.6 L581.39,530.7 L582.11,530.9 L582.84,530.9 L583.57,531.2 L584.29,531.2 L585.02,531.3 L585.75,531.5 L586.48,531.5 L587.20,531.7 L587.93,531.7 L588.66,531.8 L589.39,531.9 L590.11,532.0 L590.84,532.1 L591.57,532.2 L592.29,532.3 L593.02,532.4 L593.75,532.5 L594.48,532.6 L595.20,532.7 L595.93,532.7 L596.66,532.9 L597.39,532.9 L598.11,533.0 L598.84,533.1 L599.57,533.2 L600.29,533.2 L601.02,533.3 L601.75,533.4 L602.48,533.4 L603.20,533.6 L603.93,533.6 L604.66,533.6 L605.39,533.7 L606.11,533.7 L606.84,533.8 L607.57,533.8 L608.29,533.9 L609.02,533.9 L609.75,534.0 L610.48,534.0 L611.20,534.1 L611.93,534.1 L612.66,534.2 L613.39,534.2 L614.11,534.3 L614.84,534.3 L615.57,534.4 L616.29,534.4 L617.02,534.4 L617.75,534.5 L618.48,534.5 L619.20,534.5 L619.93,534.6 L620.66,534.6 L621.39,534.6 L622.11,534.6 L622.84,534.7 L623.57,534.7 L624.30,534.8 L625.02,534.7 L625.75,534.8 L626.48,534.8 L627.20,534.8 L627.93,534.9 L628.66,534.9 L629.39,534.9 L630.11,534.9 L630.84,535.0 L631.57,535.0 L632.30,535.0 L633.02,535.0 L633.75,535.0 L634.48,535.1 L635.20,535.1 L635.93,535.1 L636.66,535.1 L637.39,535.2 L638.11,535.2 L638.84,535.2 L639.57,535.2 L640.30,535.2 L641.02,535.3 L641.75,535.3 L642.48,535.3" fill="none" stroke="#fc3d3d" stroke-width="3.0" stroke-linejoin="round"/>
<ellipse cx="60.65" cy="535.6" rx="4.0" ry="4.0" fill="#008080"/><ellipse cx="82.46" cy="430.8" rx="4.0" ry="4.0" fill="#008080"/><ellipse cx="104.28" cy="390.0" rx="4.0" ry="4.0" fill="#008080"/><ellipse cx="126.10" cy="336.3" rx="4.0" ry="4.0" fill="#008080"/><ellipse cx="147.92" cy="241.5" rx="4.0" ry="4.0" fill="#008080"/><ellipse cx="169.74" cy="137.3" rx="4.0" ry="4.0" fill="#008080"/><ellipse cx="191.56" cy="133.0" rx="4.0" ry="4.0" fill="#008080"/><ellipse cx="213.38" cy="160.1" rx="4.0" ry="4.0" fill="#008080"/><ellipse cx="235.19" cy="179.6" rx="4.0" ry="4.0" fill="#008080"/><ellipse cx="257.01" cy="181.3" rx="4.0" ry="4.0" fill="#008080"/><ellipse cx="278.83" cy="186.3" rx="4.0" ry="4.0" fill="#008080"/><ellipse cx="300.65" cy="214.0" rx="4.0" ry="4.0" fill="#008080"/><ellipse cx="322.47" cy="225.6" rx="4.0" ry="4.0" fill="#008080"/><ellipse cx="344.29" cy="291.1" rx="4.0" ry="4.0" fill="#008080"/><ellipse cx="366.11" cy="347.3" rx="4.0" ry="4.0" fill="#008080"/><ellipse cx="387.93" cy="322.4" rx="4.0" ry="4.0" fill="#008080"/><ellipse cx="409.74" cy="383.9" rx="4.0" ry="4.0" fill="#008080"/><ellipse cx="431.56" cy="440.3" rx="4.0" ry="4.0" fill="#008080"/><ellipse cx="453.38" cy="462.6" rx="4.0" ry="4.0" fill="#008080"/><ellipse cx="475.20" cy="483.3" rx="4.0" ry="4.0" fill="#008080"/><ellipse cx="497.02" cy="506.6" rx="4.0" ry="4.0" fill="#008080"/><ellipse cx="518.84" cy="522.2" rx="4.0" ry="4.0" fill="#008080"/><ellipse cx="540.66" cy="527.0" rx="4.0" ry="4.0" fill="#008080"/><ellipse cx="562.48" cy="527.0" rx="4.0" ry="4.0" fill="#008080"/><ellipse cx="584.29" cy="531.2" rx="4.0" ry="4.0" fill="#008080"/><ellipse cx="606.11" cy="533.7" rx="4.0" ry="4.0" fill="#008080"/><ellipse cx="627.93" cy="534.9" rx="4.0" ry="4.0" fill="#008080"/>
<path d="M60.65,535.7 L61.01,535.7 L61.37,535.6 L61.74,535.5 L62.10,535.5 L62.46,535.3 L62.83,534.9 L63.19,534.7 L63.55,534.6 L63.92,534.3 L64.28,533.7 L64.65,533.4 L65.01,533.4 L65.37,533.0 L65.74,532.1 L66.10,531.0 L66.46,530.7 L66.83,530.1 L67.19,530.1 L67.55,529.6 L67.92,528.5 L68.28,526.2 L68.65,523.4 L69.01,522.9 L69.37,521.0 L69.74,519.7 L70.10,517.8 L70.46,517.3 L70.83,514.7 L71.19,512.3 L71.55,510.8 L71.92,513.8 L72.28,512.5 L72.65,507.0 L73.01,502.6 L73.37,500.0 L73.74,501.0 L74.10,498.6 L74.46,494.5 L74.83,496.0 L75.19,493.8 L75.55,485.4 L75.92,484.1 L76.28,486.3 L76.65,489.5 L77.01,490.4 L77.37,491.2 L77.74,483.4 L78.10,477.5 L78.46,475.7 L78.83,476.4 L79.19,466.5 L79.55,454.2 L79.92,448.4 L80.28,450.1 L80.65,452.8 L81.01,459.9 L81.37,455.3 L81.74,444.1 L82.10,433.8 L82.46,433.0 L82.83,442.3 L83.19,447.7 L83.55,444.1 L83.92,440.0 L84.28,439.1 L84.65,441.1 L85.01,445.8 L85.37,444.0 L85.74,437.1 L86.10,432.8 L86.46,435.0 L86.83,443.3 L87.19,450.5 L87.55,452.3 L87.92,446.2 L88.28,438.5 L88.65,433.6 L89.01,431.6 L89.37,429.0 L89.74,422.6 L90.10,422.7 L90.46,429.2 L90.83,429.5 L91.19,424.8 L91.56,420.5 L91.92,418.7 L92.28,425.1 L92.65,440.4 L93.01,443.8 L93.37,430.9 L93.74,423.9 L94.10,426.4 L94.46,424.2 L94.83,422.4 L95.19,426.2 L95.56,426.5 L95.92,424.5 L96.28,428.5 L96.65,425.5 L97.01,413.8 L97.37,404.6 L97.74,408.1 L98.10,413.0 L98.46,415.7 L98.83,422.2 L99.19,414.9 L99.56,402.8 L99.92,395.1 L100.28,393.4 L100.65,393.4 L101.01,398.2 L101.37,406.6 L101.74,414.5 L102.10,429.1 L102.46,427.8 L102.83,435.2 L103.19,442.4 L103.56,425.8 L103.92,403.3 L104.28,395.6 L104.65,403.2 L105.01,413.7 L105.37,416.2 L105.74,410.3 L106.10,398.3 L106.46,394.3 L106.83,398.1 L107.19,393.2 L107.56,394.4 L107.92,389.0 L108.28,374.2 L108.65,362.5 L109.01,362.2 L109.37,365.4 L109.74,368.5 L110.10,378.3 L110.46,379.3 L110.83,372.2 L111.19,359.9 L111.56,357.4 L111.92,374.5 L112.28,371.9 L112.65,365.5 L113.01,376.3 L113.37,383.8 L113.74,389.4 L114.10,403.8 L114.46,404.1 L114.83,405.0 L115.19,396.2 L115.56,381.4 L115.92,375.9 L116.28,378.5 L116.65,367.0 L117.01,347.4 L117.37,332.8 L117.74,337.9 L118.10,359.3 L118.46,377.5 L118.83,369.4 L119.19,357.5 L119.56,354.4 L119.92,372.2 L120.28,396.3 L120.65,415.1 L121.01,427.6 L121.37,431.0 L121.74,414.5 L122.10,389.7 L122.46,375.4 L122.83,382.5 L123.19,387.8 L123.56,381.9 L123.92,380.5 L124.28,382.6 L124.65,384.1 L125.01,385.1 L125.37,372.1 L125.74,354.3 L126.10,345.3 L126.46,343.6 L126.83,332.1 L127.19,329.1 L127.56,345.4 L127.92,377.0 L128.28,420.8 L128.65,444.3 L129.01,416.8 L129.37,371.5 L129.74,341.6 L130.10,328.8 L130.47,353.7 L130.83,403.3 L131.19,433.1 L131.56,383.9 L131.92,330.0 L132.28,292.5 L132.65,277.2 L133.01,269.1 L133.37,266.0 L134.10,254.3 L134.83,242.7 L135.56,253.2 L136.28,248.1 L137.01,254.7 L137.74,261.2 L138.47,265.6 L139.19,253.2 L139.92,233.4 L140.65,277.6 L141.37,246.3 L142.10,227.5 L142.83,239.6 L143.56,242.3 L144.28,231.6 L145.01,222.1 L145.74,229.4 L146.47,242.4 L147.19,230.0 L147.92,255.3 L148.65,216.9 L149.37,221.0 L150.10,230.7 L150.83,232.1 L151.56,222.5 L152.28,231.1 L153.01,241.2 L153.74,238.1 L154.47,259.9 L155.19,315.5 L155.92,335.7 L156.65,202.7 L157.37,225.6 L158.10,249.0 L158.83,220.9 L159.56,190.1 L160.28,182.5 L161.01,225.4 L161.74,236.9 L162.47,192.7 L163.19,197.1 L163.92,172.9 L164.65,167.3 L165.37,176.4 L166.10,162.4 L166.83,200.7 L167.56,154.4 L168.28,149.6 L169.01,150.3 L169.74,136.0 L170.47,121.0 L171.19,138.5 L171.92,168.8 L172.65,142.0 L173.38,144.7 L174.10,131.7 L174.83,128.2 L175.56,136.8 L176.28,139.8 L177.01,142.3 L177.74,128.3 L178.47,124.4 L179.19,122.8 L179.92,135.3 L180.65,140.1 L181.38,131.7 L182.10,149.7 L182.83,132.9 L183.56,131.2 L184.28,146.7 L185.01,140.1 L185.74,119.5 L186.47,135.6 L187.19,131.1 L187.92,117.7 L188.65,132.0 L189.38,129.5 L190.10,116.4 L190.83,124.4 L191.56,117.5 L192.28,117.6 L193.01,116.0 L193.74,121.1 L194.47,128.9 L195.19,130.2 L195.92,206.9 L196.65,167.4 L197.38,137.0 L198.10,160.1 L198.83,116.0 L199.56,132.2 L200.28,151.0 L201.01,124.2 L201.74,133.9 L202.47,109.1 L203.19,130.0 L203.92,123.0 L204.65,134.3 L205.38,134.3 L206.10,135.8 L206.83,148.1 L207.56,148.8 L208.29,131.6 L209.01,159.7 L209.74,133.4 L210.47,117.9 L211.19,136.7 L211.92,147.3 L212.65,129.1 L213.38,139.7 L214.10,132.4 L214.83,121.7 L215.56,146.7 L216.29,154.9 L217.01,143.9 L217.74,140.2 L218.47,213.4 L219.19,167.0 L219.92,178.3 L220.65,145.5 L221.38,142.6 L222.10,133.7 L222.83,156.7 L223.56,128.0 L224.29,131.1 L225.01,142.2 L225.74,191.5 L226.47,141.6 L227.19,123.2 L227.92,139.2 L228.65,117.4 L229.38,124.8 L230.10,168.7 L230.83,142.6 L231.56,136.5 L232.29,119.4 L233.01,150.5 L233.74,131.2 L234.47,141.1 L235.19,154.6 L235.92,169.4 L236.65,137.0 L237.38,143.6 L238.10,129.8 L238.83,139.0 L239.56,142.7 L240.29,137.5 L241.01,148.9 L241.74,136.8 L242.47,139.9 L243.20,140.3 L243.92,132.2 L244.65,143.7 L245.38,136.0 L246.10,133.8 L246.83,140.7 L247.56,150.4 L248.29,142.2 L249.01,163.4 L249.74,156.8 L250.47,134.8 L251.20,154.1 L251.92,139.6 L252.65,147.4 L253.38,145.0 L254.10,166.2 L254.83,141.9 L255.56,145.5 L256.29,155.1 L257.01,154.9 L257.74,167.3 L258.47,146.6 L259.20,144.9 L259.92,146.8 L260.65,155.4 L261.38,158.4 L262.10,148.7 L262.83,160.4 L263.56,154.8 L264.29,148.1 L265.01,146.0 L265.74,139.8 L266.47,135.4 L267.20,135.9 L267.92,138.8 L268.65,148.1 L269.38,139.3 L270.10,148.0 L270.83,200.8 L271.56,179.3 L272.29,154.3 L273.01,162.1 L273.74,156.5 L274.47,158.1 L275.20,162.7 L275.92,151.2 L276.65,149.9 L277.38,154.6 L278.10,154.6 L278.83,150.7 L279.56,155.2 L280.29,161.0 L281.01,153.1 L281.74,146.4 L282.47,147.1 L283.20,149.1 L283.92,146.9 L284.65,148.2 L285.38,151.3 L286.11,153.0 L286.83,155.1 L287.56,149.5 L288.29,155.1 L289.01,166.8 L289.74,153.4 L290.47,163.6 L291.20,168.5 L291.92,154.7 L292.65,153.1 L293.38,153.1 L294.11,151.7 L294.83,165.7 L295.56,168.5 L296.29,169.9 L297.01,172.5 L297.74,173.1 L298.47,162.8 L299.20,183.3 L299.92,171.0 L300.65,176.1 L301.38,170.1 L302.11,183.9 L302.83,161.6 L303.56,167.7 L304.29,163.5 L305.01,172.3 L305.74,160.2 L306.47,158.0 L307.20,159.9 L307.92,168.1 L308.65,168.3 L309.38,167.9 L310.11,164.5 L310.83,166.5 L311.56,164.2 L312.29,175.3 L313.01,177.3 L313.74,181.1 L314.47,192.5 L315.20,191.0 L315.92,169.8 L316.65,184.9 L317.38,174.2 L318.11,178.6 L318.83,195.5 L319.56,237.5 L320.29,224.2 L321.02,187.9 L321.74,187.1 L322.47,185.3 L323.20,187.2 L323.92,190.5 L324.65,190.4 L325.38,187.8 L326.11,182.1 L326.83,182.9 L327.56,185.9 L328.29,185.2 L329.02,179.7 L329.74,185.1 L330.47,186.3 L331.20,191.7 L331.92,189.3 L332.65,190.3 L333.38,193.7 L334.11,190.3 L334.83,194.0 L335.56,192.7 L336.29,196.2 L337.02,196.2 L337.74,198.1 L338.47,197.1 L339.20,201.3 L339.92,204.1 L340.65,204.4 L341.38,212.4 L342.11,303.2 L342.83,267.0 L343.56,265.8 L344.29,253.2 L345.02,241.5 L345.74,233.5 L346.47,236.0 L347.20,239.9 L347.92,234.5 L348.65,235.8 L349.38,219.4 L350.11,224.9 L350.83,231.9 L351.56,234.7 L352.29,239.1 L353.02,239.3 L353.74,238.2 L354.47,231.0 L355.20,228.5 L355.93,230.7 L356.65,232.5 L357.38,234.0 L358.11,233.5 L358.83,232.2 L359.56,233.2 L360.29,235.7 L361.02,239.8 L361.74,237.7 L362.47,248.4 L363.20,245.9 L363.93,283.9 L364.65,301.9 L365.38,326.4 L366.11,312.6 L366.83,290.2 L367.56,255.7 L368.29,277.8 L369.02,298.1 L369.74,302.4 L370.47,293.0 L371.20,292.4 L371.93,302.8 L372.65,301.6 L373.38,283.5 L374.11,296.8 L374.83,278.5 L375.56,269.3 L376.29,260.8 L377.02,265.1 L377.74,268.1 L378.47,268.8 L379.20,264.0 L379.93,272.4 L380.65,266.4 L381.38,267.8 L382.11,268.1 L382.83,262.9 L383.56,261.2 L384.29,261.8 L385.02,262.9 L385.74,263.2 L386.47,265.4 L387.20,267.0 L387.93,267.9 L388.65,269.8 L389.38,269.6 L390.11,271.8 L390.83,269.5 L391.56,271.3 L392.29,275.6 L393.02,277.0 L393.74,276.7 L394.47,285.3 L395.20,480.3 L395.93,503.9 L396.65,393.9 L397.38,457.9 L398.11,425.9 L398.84,396.7 L399.56,371.7 L400.29,340.7 L401.02,314.2 L401.74,312.8 L402.47,307.7 L403.20,307.7 L403.93,307.6 L404.65,309.6 L405.38,311.5 L406.11,313.4 L406.84,314.8 L407.56,317.9 L408.29,319.8 L409.02,320.3 L409.74,323.9 L410.47,325.4 L411.20,325.5 L411.93,327.4 L412.65,329.8 L413.38,330.0 L414.11,330.9 L414.84,334.4 L415.56,337.9 L416.29,339.6 L417.02,346.6 L417.74,344.9 L418.47,347.5 L419.20,349.7 L419.93,348.8 L420.65,350.2 L421.38,354.1 L422.11,351.9 L422.84,349.1 L423.56,353.3 L424.29,356.9 L425.02,355.4 L425.74,355.7 L426.47,359.4 L427.20,357.7 L427.93,361.9 L428.65,355.1 L429.38,357.2 L430.11,358.0 L430.84,362.6 L431.56,362.4 L432.29,362.8 L433.02,367.1 L433.75,370.1 L434.47,387.2 L435.20,388.5 L435.93,398.7 L436.65,395.3 L437.38,400.0 L438.11,386.2 L438.84,393.1 L439.56,370.4 L440.29,377.8 L441.02,423.9 L441.75,380.0 L442.47,374.0 L443.20,379.7 L443.93,370.8 L444.65,393.2 L445.38,379.5 L446.11,381.5 L446.84,379.8 L447.56,384.5 L448.29,373.7 L449.02,377.2 L449.75,365.2 L450.47,370.1 L451.20,363.6 L451.93,365.0 L452.65,364.4 L453.38,361.6 L454.11,362.3 L454.84,364.3 L455.56,362.7 L456.29,365.7 L457.02,360.2 L457.75,359.6 L458.47,364.0 L459.20,363.7 L459.93,364.6 L460.65,380.4 L461.38,366.0 L462.11,366.8 L462.84,367.3 L463.56,386.9 L464.29,375.9 L465.02,365.1 L465.75,361.6 L466.47,361.3 L467.20,361.1 L467.93,361.5 L468.66,361.5 L469.38,359.9 L470.11,358.6 L470.84,362.1 L471.56,364.7 L472.29,384.7 L473.02,372.7 L473.75,364.6 L474.47,366.1 L475.20,362.6 L475.93,364.8 L476.66,362.2 L477.38,363.6 L478.11,366.4 L478.84,368.5 L479.56,363.5 L480.29,362.6 L481.02,363.0 L481.75,365.5 L482.47,364.7 L483.20,370.0 L483.93,365.3 L484.66,365.6 L485.38,364.6 L486.11,362.2 L486.84,368.7 L487.56,367.8 L488.29,365.3 L489.02,362.8 L489.75,364.4 L490.47,363.8 L491.20,366.7 L491.93,373.1 L492.66,376.9 L493.38,383.8 L494.11,393.1 L494.84,411.1 L495.56,401.2 L496.29,432.8 L497.02,396.2 L497.75,423.0 L498.47,410.0 L499.20,405.9 L499.93,376.5 L500.66,381.5 L501.38,389.2 L502.11,415.0 L502.84,412.3 L503.56,402.3 L504.29,417.3 L505.02,409.0 L505.75,404.9 L506.47,416.3 L507.20,416.6 L507.93,406.6 L508.66,425.9 L509.38,396.6 L510.11,422.7 L510.84,394.7 L511.57,393.6 L512.29,386.6 L513.02,401.9 L513.75,393.2 L514.47,397.7 L515.20,399.6 L515.93,401.1 L516.66,384.9 L517.38,422.8 L518.11,430.1 L518.84,452.9 L519.57,457.3 L520.29,478.1 L521.02,488.1 L521.75,508.2 L522.47,487.7 L523.20,504.8 L523.93,504.4 L524.66,497.3 L525.38,459.2 L526.11,445.2 L526.84,464.4 L527.57,458.0 L528.29,482.3 L529.02,480.9 L529.75,465.1 L530.47,498.4 L531.20,464.5 L531.93,483.1 L532.66,440.9 L533.38,507.5 L534.11,442.8 L534.84,484.1 L535.57,469.8 L536.29,454.3 L537.02,470.2 L537.75,472.7 L538.47,483.8 L539.20,447.2 L539.93,464.0 L540.66,455.0 L541.38,447.2 L542.11,450.9 L542.84,438.8 L543.57,447.8 L544.29,439.3 L545.02,439.6 L545.75,439.8 L546.48,411.3 L547.20,405.1 L547.93,415.1 L548.66,400.3 L549.38,405.6 L550.11,421.2 L550.84,427.4 L551.57,425.0 L552.29,428.6 L553.02,416.5 L553.75,421.2 L554.48,417.3 L555.20,423.9 L555.93,404.2 L556.66,408.5 L557.38,413.2 L558.11,401.1 L558.84,410.5 L559.57,399.6 L560.29,402.2 L561.02,403.5 L561.75,401.4 L562.48,404.9 L563.20,401.6 L563.93,402.6 L564.66,405.6 L565.38,403.3 L566.11,404.3 L566.84,405.5 L567.57,407.8 L568.29,408.7 L569.02,409.5 L569.75,410.9 L570.48,410.2 L571.20,413.8 L571.93,413.6 L572.66,416.3 L573.38,424.0 L574.11,419.9 L574.84,418.4 L575.57,419.4 L576.29,421.5 L577.02,422.6 L577.75,423.0 L578.48,424.6 L579.20,425.8 L579.93,426.4 L580.66,429.3 L581.39,429.8 L582.11,432.0 L582.84,431.4 L583.57,436.1 L584.29,435.6 L585.02,436.3 L585.75,439.0 L586.48,439.4 L587.20,441.1 L587.93,441.3 L588.66,442.7 L589.39,444.3 L590.11,445.4 L590.84,447.7 L591.57,448.4 L592.29,450.1 L593.02,451.3 L593.75,454.1 L594.48,454.9 L595.20,456.0 L595.93,457.3 L596.66,459.4 L597.39,461.1 L598.11,461.9 L598.84,463.7 L599.57,465.0 L600.29,466.3 L601.02,468.3 L601.75,469.2 L602.48,470.8 L603.20,473.7 L603.93,474.0 L604.66,474.6 L605.39,476.1 L606.11,477.6 L606.84,478.7 L607.57,480.1 L608.29,481.4 L609.02,482.8 L609.75,483.7 L610.48,485.0 L611.20,486.3 L611.93,487.9 L612.66,490.4 L613.39,490.3 L614.11,492.4 L614.84,492.7 L615.57,494.5 L616.29,494.9 L617.02,496.1 L617.75,497.9 L618.48,498.7 L619.20,499.8 L619.93,502.6 L620.66,502.5 L621.39,502.8 L622.11,503.8 L622.84,505.2 L623.57,505.2 L624.30,507.4 L625.02,507.1 L625.75,508.4 L626.48,509.1 L627.20,509.7 L627.93,510.7 L628.66,512.0 L629.39,512.2 L630.11,512.5 L630.84,513.8 L631.57,513.8 L632.30,515.7 L633.02,515.8 L633.75,515.4 L634.48,516.3 L635.20,517.6 L635.93,517.0 L636.66,517.7 L637.39,520.2 L638.11,519.7 L638.84,520.7 L639.57,521.5 L640.30,519.7 L641.02,522.1 L641.75,522.2 L642.48,523.1" fill="none" stroke="#1a69ec" stroke-width="2.4" stroke-linejoin="round"/>
<path d="M55.75,538.7 L65.55,538.7 L60.65,529.7Z" fill="#ff00ff"/><path d="M77.56,436.0 L87.36,436.0 L82.46,427.0Z" fill="#ff00ff"/><path d="M99.38,398.6 L109.18,398.6 L104.28,389.6Z" fill="#ff00ff"/><path d="M121.20,348.3 L131.00,348.3 L126.10,339.3Z" fill="#ff00ff"/><path d="M143.02,258.3 L152.82,258.3 L147.92,249.3Z" fill="#ff00ff"/><path d="M164.84,139.0 L174.64,139.0 L169.74,130.0Z" fill="#ff00ff"/><path d="M186.66,120.5 L196.46,120.5 L191.56,111.5Z" fill="#ff00ff"/><path d="M208.48,142.7 L218.28,142.7 L213.38,133.7Z" fill="#ff00ff"/><path d="M230.29,157.6 L240.09,157.6 L235.19,148.6Z" fill="#ff00ff"/><path d="M252.11,157.9 L261.91,157.9 L257.01,148.9Z" fill="#ff00ff"/><path d="M273.93,153.7 L283.73,153.7 L278.83,144.7Z" fill="#ff00ff"/><path d="M295.75,179.1 L305.55,179.1 L300.65,170.1Z" fill="#ff00ff"/><path d="M317.57,188.3 L327.37,188.3 L322.47,179.3Z" fill="#ff00ff"/><path d="M339.39,256.2 L349.19,256.2 L344.29,247.2Z" fill="#ff00ff"/><path d="M361.21,315.6 L371.01,315.6 L366.11,306.6Z" fill="#ff00ff"/><path d="M383.03,270.9 L392.83,270.9 L387.93,261.9Z" fill="#ff00ff"/><path d="M404.84,326.9 L414.64,326.9 L409.74,317.9Z" fill="#ff00ff"/><path d="M426.66,365.4 L436.46,365.4 L431.56,356.4Z" fill="#ff00ff"/><path d="M448.48,364.6 L458.28,364.6 L453.38,355.6Z" fill="#ff00ff"/><path d="M470.30,365.6 L480.10,365.6 L475.20,356.6Z" fill="#ff00ff"/><path d="M492.12,399.2 L501.92,399.2 L497.02,390.2Z" fill="#ff00ff"/><path d="M513.94,455.9 L523.74,455.9 L518.84,446.9Z" fill="#ff00ff"/><path d="M535.76,458.0 L545.56,458.0 L540.66,449.0Z" fill="#ff00ff"/><path d="M557.58,407.9 L567.38,407.9 L562.48,398.9Z" fill="#ff00ff"/><path d="M579.39,438.6 L589.19,438.6 L584.29,429.6Z" fill="#ff00ff"/><path d="M601.21,480.6 L611.01,480.6 L606.11,471.6Z" fill="#ff00ff"/><path d="M623.03,513.7 L632.83,513.7 L627.93,504.7Z" fill="#ff00ff"/>
<path d="M60.65,535.7 L61.01,535.7 L61.37,535.6 L61.74,535.5 L62.10,535.5 L62.46,535.3 L62.83,534.9 L63.19,534.7 L63.55,534.6 L63.92,534.3 L64.28,533.7 L64.65,533.4 L65.01,533.4 L65.37,533.0 L65.74,532.1 L66.10,531.0 L66.46,530.7 L66.83,530.1 L67.19,530.1 L67.55,529.6 L67.92,528.5 L68.28,526.2 L68.65,523.4 L69.01,522.9 L69.37,521.0 L69.74,519.7 L70.10,517.8 L70.46,517.3 L70.83,514.7 L71.19,512.3 L71.55,510.8 L71.92,513.8 L72.28,512.5 L72.65,507.0 L73.01,502.6 L73.37,500.1 L73.74,501.0 L74.10,498.7 L74.46,494.5 L74.83,496.0 L75.19,493.8 L75.55,485.4 L75.92,484.1 L76.28,486.3 L76.65,489.4 L77.01,490.2 L77.37,491.1 L77.74,483.2 L78.10,477.3 L78.46,475.4 L78.83,476.1 L79.19,466.1 L79.55,453.6 L79.92,447.7 L80.28,449.4 L80.65,452.1 L81.01,459.2 L81.37,454.5 L81.74,443.2 L82.10,432.8 L82.46,432.0 L82.83,441.4 L83.19,446.8 L83.55,443.2 L83.92,439.0 L84.28,438.1 L84.65,440.1 L85.01,444.9 L85.37,443.0 L85.74,436.1 L86.10,431.7 L86.46,433.9 L86.83,442.3 L87.19,449.6 L87.55,451.3 L87.92,445.2 L88.28,437.4 L88.65,432.4 L89.01,430.4 L89.37,427.7 L89.74,421.4 L90.10,421.4 L90.46,428.0 L90.83,428.3 L91.19,423.5 L91.56,419.2 L91.92,417.4 L92.28,423.8 L92.65,439.3 L93.01,442.7 L93.37,429.7 L93.74,422.5 L94.10,425.1 L94.46,422.9 L94.83,421.0 L95.19,424.9 L95.56,425.2 L95.92,423.2 L96.28,427.2 L96.65,424.2 L97.01,412.4 L97.37,403.0 L97.74,406.6 L98.10,411.5 L98.46,414.3 L98.83,420.8 L99.19,413.5 L99.56,401.2 L99.92,393.4 L100.28,391.8 L100.65,391.7 L101.01,396.6 L101.37,405.1 L101.74,413.1 L102.10,427.9 L102.46,426.5 L102.83,434.1 L103.19,441.3 L103.56,424.6 L103.92,401.8 L104.28,394.0 L104.65,401.7 L105.01,412.4 L105.37,414.9 L105.74,409.0 L106.10,396.8 L106.46,392.8 L106.83,396.7 L107.19,391.6 L107.56,393.0 L107.92,387.4 L108.28,372.5 L108.65,360.7 L109.01,360.4 L109.37,363.6 L109.74,366.8 L110.10,376.7 L110.46,377.7 L110.83,370.5 L111.19,358.2 L111.56,355.7 L111.92,372.9 L112.28,370.3 L112.65,363.8 L113.01,374.8 L113.37,382.4 L113.74,388.0 L114.10,402.5 L114.46,402.8 L114.83,403.8 L115.19,394.9 L115.56,380.0 L115.92,374.4 L116.28,377.0 L116.65,365.4 L117.01,345.7 L117.37,330.9 L117.74,336.1 L118.10,357.7 L118.46,376.1 L118.83,367.9 L119.19,355.9 L119.56,352.8 L119.92,370.8 L120.28,395.1 L120.65,414.1 L121.01,426.7 L121.37,430.1 L121.74,413.5 L122.10,388.5 L122.46,374.1 L122.83,381.2 L123.19,386.6 L123.56,380.6 L123.92,379.2 L124.28,381.4 L124.65,382.9 L125.01,383.9 L125.37,370.8 L125.74,352.9 L126.10,343.8 L126.46,342.1 L126.83,330.6 L127.19,327.6 L127.56,344.0 L127.92,375.9 L128.28,419.9 L128.65,443.6 L129.01,416.0 L129.37,370.4 L129.74,340.3 L130.10,327.4 L130.47,352.4 L130.83,402.4 L131.19,432.4 L131.56,383.0 L131.92,328.7 L132.28,291.0 L132.65,275.6 L133.01,267.4 L133.37,264.3 L134.10,252.6 L134.83,241.0 L135.56,251.6 L136.28,246.5 L137.01,253.2 L137.74,259.7 L138.47,264.3 L139.19,251.8 L139.92,232.0 L140.65,276.4 L141.37,245.0 L142.10,226.3 L142.83,238.4 L143.56,241.3 L144.28,230.5 L145.01,221.1 L145.74,228.5 L146.47,241.6 L147.19,229.3 L147.92,254.7 L148.65,216.3 L149.37,220.4 L150.10,230.2 L150.83,231.6 L151.56,222.1 L152.28,230.8 L153.01,240.9 L153.74,237.8 L154.47,259.7 L155.19,315.4 L155.92,335.6 L156.65,202.6 L157.37,225.6 L158.10,249.1 L158.83,221.2 L159.56,190.5 L160.28,183.1 L161.01,226.1 L161.74,237.7 L162.47,193.8 L163.19,198.4 L163.92,174.4 L164.65,169.1 L165.37,178.3 L166.10,164.5 L166.83,202.7 L167.56,156.9 L168.28,152.2 L169.01,152.9 L169.74,138.7 L170.47,123.8 L171.19,141.2 L171.92,171.2 L172.65,144.5 L173.38,147.1 L174.10,134.1 L174.83,130.5 L175.56,139.0 L176.28,141.9 L177.01,144.3 L177.74,130.3 L178.47,126.3 L179.19,124.6 L179.92,136.9 L180.65,141.7 L181.38,133.1 L182.10,150.9 L182.83,134.1 L183.56,132.3 L184.28,147.7 L185.01,140.9 L185.74,120.2 L186.47,136.2 L187.19,131.6 L187.92,118.2 L188.65,132.3 L189.38,129.7 L190.10,116.5 L190.83,124.5 L191.56,117.5 L192.28,117.5 L193.01,115.8 L193.74,120.8 L194.47,128.5 L195.19,129.7 L195.92,206.4 L196.65,166.8 L197.38,136.3 L198.10,159.3 L198.83,115.0 L199.56,131.2 L200.28,149.9 L201.01,122.9 L201.74,132.6 L202.47,107.6 L203.19,128.5 L203.92,121.4 L204.65,132.6 L205.38,132.6 L206.10,133.9 L206.83,146.2 L207.56,146.4 L208.29,128.5 L209.01,156.1 L209.74,128.8 L210.47,112.4 L211.19,130.7 L211.92,140.9 L212.65,122.0 L213.38,132.7 L214.10,125.2 L214.83,114.3 L215.56,139.8 L216.29,148.2 L217.01,137.0 L217.74,133.3 L218.47,207.8 L219.19,160.7 L219.92,172.3 L220.65,139.0 L221.38,136.2 L222.10,127.2 L222.83,150.7 L223.56,121.6 L224.29,124.8 L225.01,136.3 L225.74,186.4 L226.47,135.9 L227.19,117.3 L227.92,133.5 L228.65,111.5 L229.38,119.2 L230.10,163.7 L230.83,137.3 L231.56,131.2 L232.29,113.9 L233.01,145.4 L233.74,125.9 L234.47,136.0 L235.19,149.7 L235.92,164.6 L236.65,131.8 L237.38,138.5 L238.10,124.6 L238.83,133.9 L239.56,137.7 L240.29,132.6 L241.01,144.1 L241.74,131.9 L242.47,135.1 L243.20,135.6 L243.92,127.5 L244.65,139.2 L245.38,131.5 L246.10,129.4 L246.83,136.4 L247.56,146.4 L248.29,138.1 L249.01,159.6 L249.74,153.1 L250.47,130.9 L251.20,150.4 L251.92,136.0 L252.65,143.9 L253.38,141.5 L254.10,163.0 L254.83,138.6 L255.56,142.3 L256.29,152.0 L257.01,151.9 L257.74,164.5 L258.47,143.8 L259.20,142.2 L259.92,144.3 L260.65,153.2 L261.38,156.5 L262.10,147.0 L262.83,159.0 L263.56,153.6 L264.29,147.2 L265.01,145.5 L265.74,139.6 L266.47,135.6 L267.20,136.4 L267.92,139.7 L268.65,149.4 L269.38,141.0 L270.10,150.0 L270.83,202.7 L271.56,181.8 L272.29,157.2 L273.01,165.2 L273.74,159.9 L274.47,161.8 L275.20,166.6 L275.92,155.4 L276.65,154.3 L277.38,159.1 L278.10,159.2 L278.83,155.4 L279.56,160.0 L280.29,165.7 L281.01,157.9 L281.74,151.4 L282.47,152.1 L283.20,154.1 L283.92,151.9 L284.65,153.2 L285.38,156.2 L286.11,157.9 L286.83,159.9 L287.56,154.3 L288.29,159.8 L289.01,171.3 L289.74,158.0 L290.47,168.0 L291.20,172.8 L291.92,159.1 L292.65,157.4 L293.38,157.3 L294.11,155.7 L294.83,169.5 L295.56,172.2 L296.29,173.4 L297.01,175.8 L297.74,176.2 L298.47,165.9 L299.20,186.0 L299.92,173.7 L300.65,178.5 L301.38,172.5 L302.11,185.9 L302.83,163.6 L303.56,169.3 L304.29,164.8 L305.01,173.3 L305.74,160.9 L306.47,158.4 L307.20,160.0 L307.92,167.8 L308.65,167.6 L309.38,166.9 L310.11,163.0 L310.83,164.7 L311.56,161.9 L312.29,172.6 L313.01,174.3 L313.74,177.7 L314.47,188.8 L315.20,186.8 L315.92,164.9 L316.65,179.7 L317.38,168.4 L318.11,172.4 L318.83,189.2 L319.56,231.5 L320.29,217.6 L321.02,180.0 L321.74,178.7 L322.47,176.4 L323.20,177.9 L323.92,180.8 L324.65,180.1 L325.38,176.8 L326.11,170.3 L326.83,170.5 L327.56,172.9 L328.29,171.5 L329.02,165.0 L329.74,169.9 L330.47,170.4 L331.20,175.3 L331.92,171.9 L332.65,172.2 L333.38,174.9 L334.11,170.5 L334.83,173.6 L335.56,171.4 L336.29,174.2 L337.02,173.4 L337.74,174.6 L338.47,172.7 L339.20,176.4 L339.92,178.5 L340.65,178.1 L341.38,186.0 L342.11,283.7 L342.83,243.9 L343.56,241.9 L344.29,227.6 L345.02,214.2 L345.74,204.8 L346.47,206.8 L347.20,210.5 L347.92,203.9 L348.65,204.6 L349.38,185.7 L350.11,191.1 L350.83,198.2 L351.56,200.6 L352.29,204.8 L353.02,204.3 L353.74,202.3 L354.47,193.6 L355.20,189.9 L355.93,191.7 L356.65,193.0 L357.38,194.0 L358.11,192.7 L358.83,190.6 L359.56,191.1 L360.29,193.2 L361.02,197.2 L361.74,194.2 L362.47,205.8 L363.20,202.4 L363.93,245.5 L364.65,265.8 L365.38,293.7 L366.11,277.3 L366.83,251.0 L367.56,210.5 L368.29,235.8 L369.02,259.1 L369.74,263.8 L370.47,252.5 L371.20,251.7 L371.93,263.5 L372.65,261.9 L373.38,240.7 L374.11,256.0 L374.83,234.5 L375.56,223.5 L376.29,213.4 L377.02,218.3 L377.74,221.6 L378.47,222.4 L379.20,216.6 L379.93,226.3 L380.65,219.0 L381.38,220.5 L382.11,220.7 L382.83,214.4 L383.56,212.1 L384.29,212.6 L385.02,213.6 L385.74,213.7 L386.47,215.9 L387.20,217.3 L387.93,218.0 L388.65,219.7 L389.38,218.9 L390.11,220.8 L390.83,217.2 L391.56,218.5 L392.29,222.7 L393.02,223.3 L393.74,221.8 L394.47,231.1 L395.20,468.0 L395.93,496.6 L396.65,361.1 L397.38,439.6 L398.11,399.4 L398.84,362.4 L399.56,330.3 L400.29,290.5 L401.02,255.9 L401.74,252.9 L402.47,245.3 L403.20,244.1 L403.93,242.7 L404.65,243.9 L405.38,245.0 L406.11,246.2 L406.84,246.8 L407.56,249.9 L408.29,251.6 L409.02,251.7 L409.74,256.2 L410.47,258.3 L411.20,258.5 L411.93,261.2 L412.65,264.7 L413.38,265.2 L414.11,266.9 L414.84,272.0 L415.56,277.2 L416.29,280.1 L417.02,289.9 L417.74,288.4 L418.47,292.7 L419.20,296.3 L419.93,296.1 L420.65,298.9 L421.38,304.8 L422.11,303.0 L422.84,300.5 L423.56,306.9 L424.29,312.4 L425.02,311.7 L425.74,313.1 L426.47,318.8 L427.20,317.8 L427.93,324.1 L428.65,316.9 L429.38,320.5 L430.11,322.5 L430.84,329.0 L431.56,329.8 L432.29,331.3 L433.02,337.3 L433.75,341.7 L434.47,362.7 L435.20,365.0 L435.93,377.7 L436.65,374.7 L437.38,380.8 L438.11,366.0 L438.84,374.7 L439.56,350.1 L440.29,359.3 L441.02,411.5 L441.75,363.7 L442.47,358.0 L443.20,365.1 L443.93,356.4 L444.65,381.5 L445.38,367.6 L446.11,370.5 L446.84,369.6 L447.56,375.5 L448.29,364.8 L449.02,369.3 L449.75,357.5 L450.47,363.4 L451.20,357.4 L451.93,359.6 L452.65,359.7 L453.38,357.6 L454.11,359.0 L454.84,361.7 L455.56,360.6 L456.29,364.3 L457.02,359.5 L457.75,359.5 L458.47,364.6 L459.20,364.8 L459.93,366.3 L460.65,382.4 L461.38,368.9 L462.11,370.2 L462.84,371.2 L463.56,390.9 L464.29,380.7 L465.02,370.7 L465.75,367.9 L466.47,368.2 L467.20,368.5 L467.93,369.4 L468.66,369.9 L469.38,368.8 L470.11,368.1 L470.84,371.9 L471.56,374.8 L472.29,394.1 L473.02,383.2 L473.75,376.1 L474.47,377.9 L475.20,375.1 L475.93,377.5 L476.66,375.6 L477.38,377.3 L478.11,380.3 L478.84,382.7 L479.56,378.6 L480.29,378.2 L481.02,379.0 L481.75,381.8 L482.47,381.5 L483.20,386.7 L483.93,383.0 L484.66,383.6 L485.38,383.2 L486.11,381.5 L486.84,387.6 L487.56,387.2 L488.29,385.5 L489.02,383.6 L489.75,385.4 L490.47,385.2 L491.20,388.1 L491.93,393.9 L492.66,397.6 L493.38,403.8 L494.11,412.1 L494.84,427.8 L495.56,419.4 L496.29,446.8 L497.02,415.4 L497.75,438.6 L498.47,427.5 L499.20,424.1 L499.93,398.8 L500.66,403.2 L501.38,409.9 L502.11,432.1 L502.84,429.8 L503.56,421.3 L504.29,434.2 L505.02,427.1 L505.75,423.6 L506.47,433.4 L507.20,433.6 L507.93,425.1 L508.66,441.6 L509.38,416.4 L510.11,438.8 L510.84,414.8 L511.57,413.8 L512.29,407.8 L513.02,420.8 L513.75,413.4 L514.47,417.2 L515.20,418.8 L515.93,420.0 L516.66,406.0 L517.38,438.5 L518.11,444.8 L518.84,464.4 L519.57,468.2 L520.29,486.0 L521.02,494.7 L521.75,512.0 L522.47,494.2 L523.20,509.0 L523.93,508.7 L524.66,502.5 L525.38,469.6 L526.11,457.4 L526.84,474.0 L527.57,468.4 L528.29,489.5 L529.02,488.2 L529.75,474.4 L530.47,503.3 L531.20,473.9 L531.93,490.0 L532.66,453.3 L533.38,511.2 L534.11,454.8 L534.84,490.8 L535.57,478.2 L536.29,464.7 L537.02,478.5 L537.75,480.7 L538.47,490.3 L539.20,458.2 L539.93,472.8 L540.66,464.9 L541.38,457.9 L542.11,461.1 L542.84,450.3 L543.57,458.1 L544.29,450.3 L545.02,450.3 L545.75,450.2 L546.48,424.6 L547.20,418.5 L547.93,427.2 L548.66,413.3 L549.38,417.6 L550.11,431.4 L550.84,436.5 L551.57,433.8 L552.29,436.7 L553.02,424.9 L553.75,428.8 L554.48,424.5 L555.20,430.2 L555.93,410.9 L556.66,414.4 L557.38,418.2 L558.11,405.9 L558.84,414.3 L559.57,403.0 L560.29,404.8 L561.02,405.4 L561.75,402.6 L562.48,405.3 L563.20,401.3 L563.93,401.6 L564.66,403.8 L565.38,400.5 L566.11,400.7 L566.84,401.0 L567.57,402.4 L568.29,402.3 L569.02,402.2 L569.75,402.5 L570.48,400.7 L571.20,403.4 L571.93,402.0 L572.66,403.8 L573.38,411.2 L574.11,405.4 L574.84,402.4 L575.57,402.3 L576.29,403.4 L577.02,403.3 L577.75,402.4 L578.48,403.0 L579.20,403.0 L579.93,402.2 L580.66,404.3 L581.39,403.6 L582.11,404.9 L582.84,402.7 L583.57,407.2 L584.29,405.2 L585.02,404.5 L585.75,406.6 L586.48,405.4 L587.20,406.1 L587.93,404.6 L588.66,404.6 L589.39,405.0 L590.11,404.7 L590.84,406.0 L591.57,405.0 L592.29,405.4 L593.02,405.1 L593.75,407.2 L594.48,406.2 L595.20,405.7 L595.93,405.6 L596.66,406.8 L597.39,407.2 L598.11,406.2 L598.84,407.0 L599.57,406.8 L600.29,406.7 L601.02,407.9 L601.75,407.2 L602.48,407.9 L603.20,411.1 L603.93,409.2 L604.66,408.1 L605.39,408.8 L606.11,409.6 L606.84,409.5 L607.57,410.3 L608.29,410.7 L609.02,411.3 L609.75,410.9 L610.48,411.4 L611.20,411.8 L611.93,413.2 L612.66,417.0 L613.39,413.8 L614.11,416.7 L614.84,414.7 L615.57,416.7 L616.29,415.0 L617.02,415.7 L617.75,418.1 L618.48,417.7 L619.20,418.0 L619.93,424.4 L620.66,421.1 L621.39,419.0 L622.11,419.3 L622.84,421.7 L623.57,418.4 L624.30,424.1 L625.02,420.0 L625.75,422.1 L626.48,422.4 L627.20,422.3 L627.93,423.8 L628.66,427.0 L629.39,425.5 L630.11,424.0 L630.84,427.8 L631.57,425.1 L632.30,432.5 L633.02,430.3 L633.75,425.5 L634.48,428.2 L635.20,432.7 L635.93,426.8 L636.66,428.2 L637.39,441.4 L638.11,436.1 L638.84,439.7 L639.57,443.1 L640.30,429.3 L641.02,443.3 L641.75,442.6 L642.48,446.7" fill="none" stroke="#000000" stroke-width="2.65" stroke-linejoin="round"/>
<path d="M55.75,532.6 L65.55,532.6 L60.65,541.7Z" fill="#0000ff"/><path d="M77.56,429.0 L87.36,429.0 L82.46,438.1Z" fill="#0000ff"/><path d="M99.38,391.0 L109.18,391.0 L104.28,400.1Z" fill="#0000ff"/><path d="M121.20,340.8 L131.00,340.8 L126.10,349.9Z" fill="#0000ff"/><path d="M143.02,251.7 L152.82,251.7 L147.92,260.8Z" fill="#0000ff"/><path d="M164.84,135.7 L174.64,135.7 L169.74,144.8Z" fill="#0000ff"/><path d="M186.66,114.5 L196.46,114.5 L191.56,123.6Z" fill="#0000ff"/><path d="M208.48,129.6 L218.28,129.6 L213.38,138.7Z" fill="#0000ff"/><path d="M230.29,146.7 L240.09,146.7 L235.19,155.8Z" fill="#0000ff"/><path d="M252.11,148.8 L261.91,148.8 L257.01,157.9Z" fill="#0000ff"/><path d="M273.93,152.4 L283.73,152.4 L278.83,161.5Z" fill="#0000ff"/><path d="M295.75,175.5 L305.55,175.5 L300.65,184.6Z" fill="#0000ff"/><path d="M317.57,173.4 L327.37,173.4 L322.47,182.5Z" fill="#0000ff"/><path d="M339.39,224.6 L349.19,224.6 L344.29,233.7Z" fill="#0000ff"/><path d="M361.21,274.3 L371.01,274.3 L366.11,283.4Z" fill="#0000ff"/><path d="M383.03,215.0 L392.83,215.0 L387.93,224.1Z" fill="#0000ff"/><path d="M404.84,253.2 L414.64,253.2 L409.74,262.3Z" fill="#0000ff"/><path d="M426.66,326.8 L436.46,326.8 L431.56,335.9Z" fill="#0000ff"/><path d="M448.48,354.5 L458.28,354.5 L453.38,363.6Z" fill="#0000ff"/><path d="M470.30,372.0 L480.10,372.0 L475.20,381.1Z" fill="#0000ff"/><path d="M492.12,412.4 L501.92,412.4 L497.02,421.5Z" fill="#0000ff"/><path d="M513.94,461.4 L523.74,461.4 L518.84,470.5Z" fill="#0000ff"/><path d="M535.76,461.8 L545.56,461.8 L540.66,470.9Z" fill="#0000ff"/><path d="M557.58,402.3 L567.38,402.3 L562.48,411.4Z" fill="#0000ff"/><path d="M579.39,402.1 L589.19,402.1 L584.29,411.2Z" fill="#0000ff"/><path d="M601.21,406.6 L611.01,406.6 L606.11,415.7Z" fill="#0000ff"/><path d="M623.03,420.8 L632.83,420.8 L627.93,429.9Z" fill="#0000ff"/>
</g>
<!-- y tick labels -->
<g class="tk">
<text x="62.7" y="544" text-anchor="end" transform="translate(62.7,0) scale(1.55,1) translate(-62.7,0)">0</text>
<text x="62.7" y="282" text-anchor="end" transform="translate(62.7,0) scale(1.55,1) translate(-62.7,0)">1</text>
<text x="62.7" y="18.5" text-anchor="end" transform="translate(62.7,0) scale(1.55,1) translate(-62.7,0)">2</text>
</g>
<text x="94.0" y="576.4" text-anchor="middle" class="tk" transform="translate(94.0,0) scale(1.55,1) translate(-94.0,0)">0.3</text><text x="206.7" y="576.4" text-anchor="middle" class="tk" transform="translate(206.7,0) scale(1.55,1) translate(-206.7,0)">0.4</text><text x="319.5" y="576.4" text-anchor="middle" class="tk" transform="translate(319.5,0) scale(1.55,1) translate(-319.5,0)">0.5</text><text x="432.2" y="576.4" text-anchor="middle" class="tk" transform="translate(432.2,0) scale(1.55,1) translate(-432.2,0)">0.6</text><text x="544.9" y="576.4" text-anchor="middle" class="tk" transform="translate(544.9,0) scale(1.55,1) translate(-544.9,0)">0.7</text><text x="657.6" y="576.4" text-anchor="middle" class="tk" transform="translate(657.6,0) scale(1.55,1) translate(-657.6,0)">0.8</text><text x="770.4" y="576.4" text-anchor="middle" class="tk" transform="translate(770.4,0) scale(1.55,1) translate(-770.4,0)">0.9</text><text x="883.1" y="576.4" text-anchor="middle" class="tk" transform="translate(883.1,0) scale(1.55,1) translate(-883.1,0)">1.0</text><text x="995.8" y="576.4" text-anchor="middle" class="tk" transform="translate(995.8,0) scale(1.55,1) translate(-995.8,0)">1.1</text>
<rect x="857.37" y="573.89" width="8.20" height="3.11" fill="#fff"/><rect x="869.07" y="573.89" width="7.99" height="3.11" fill="#fff"/><rect x="970.10" y="573.89" width="8.20" height="3.11" fill="#fff"/><rect x="981.80" y="573.89" width="7.99" height="3.11" fill="#fff"/><rect x="1003.07" y="573.89" width="8.20" height="3.11" fill="#fff"/><rect x="1014.76" y="573.89" width="7.99" height="3.11" fill="#fff"/><rect x="42.46" y="279.49" width="8.20" height="3.11" fill="#fff"/><rect x="54.15" y="279.49" width="7.99" height="3.11" fill="#fff"/>
<text class="ti" x="0" y="0" font-size="26px" letter-spacing="0.9" transform="translate(544,610.2) scale(1.44,1)" text-anchor="middle">Wavelength(μm)</text>
<text class="ti" x="0" y="0" font-size="25.9px" transform="translate(35,273) rotate(-90) scale(1,1.5)" text-anchor="middle">Incident light(W/m<tspan dy="-11" font-size="16.5px">2</tspan><tspan dy="11">/nm)</tspan></text>
<!-- legend -->
<rect x="509.5" y="19" width="471.5" height="94.5" fill="#fff" stroke="#000" stroke-width="1.2"/>
<g transform="scale(1.55,1)">
<line x1="331.29" y1="33.4" x2="373.87" y2="33.4" stroke="#800000" stroke-width="2.8" stroke-linecap="round"/>
<rect x="348.34" y="29.6" width="7.2" height="7.6" fill="#00ffff"/>
<line x1="331.29" y1="55.5" x2="373.87" y2="55.5" stroke="#fc3d3d" stroke-width="2.4" stroke-linecap="round"/>
<ellipse cx="352.13" cy="55.2" rx="4" ry="4" fill="#008080"/>
<line x1="330.32" y1="77.9" x2="374.65" y2="77.9" stroke="#1a69ec" stroke-width="1.8"/>
<path d="M347.66,80.2 L356.86,80.2 L352.26,71.9Z" fill="#ff00ff"/>
<line x1="330.32" y1="99.9" x2="374.65" y2="99.9" stroke="#000" stroke-width="2"/>
<path d="M347.66,96.7 L356.86,96.7 L352.26,105.5Z" fill="#0000ff"/>
</g>
<g class="lg">
<text x="0" y="0" transform="translate(586,39.4) scale(1.612,1)">Incident Spectrum(AM1.5G)</text>
<text x="0" y="0" transform="translate(586,61.6) scale(1.612,1)">100 nm</text>
<text x="0" y="0" transform="translate(586,83.9) scale(1.612,1)">200 nm</text>
<text x="0" y="0" transform="translate(586,106.2) scale(1.612,1)">250 nm</text>
</g>
</svg>
</body></html>
